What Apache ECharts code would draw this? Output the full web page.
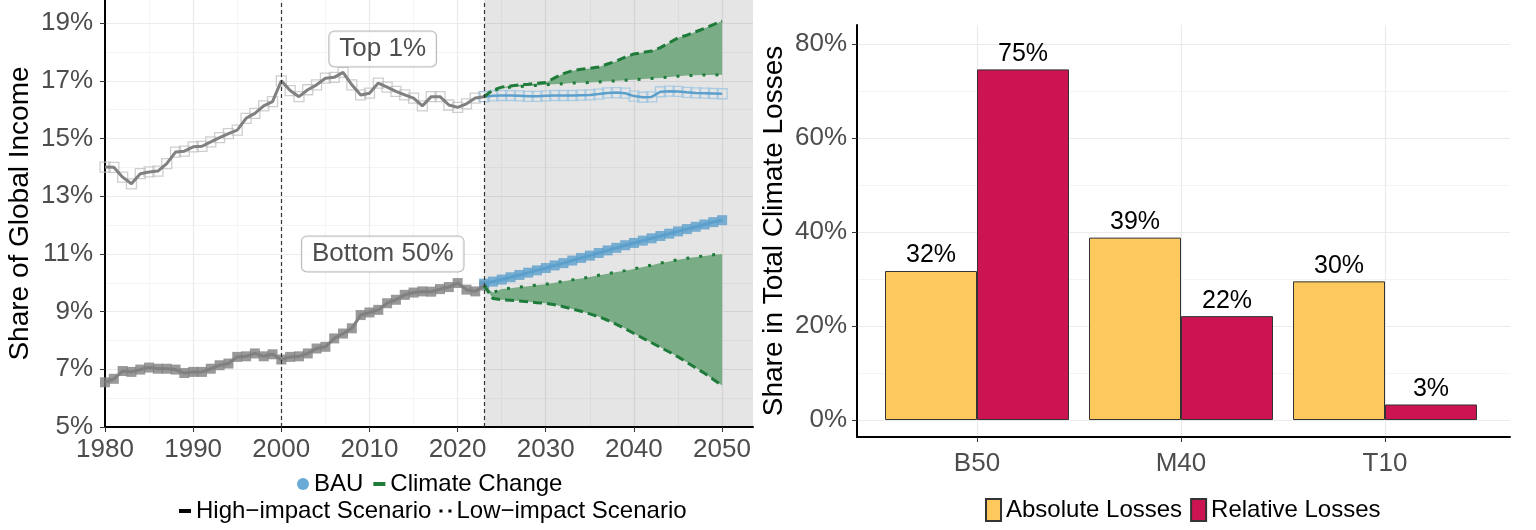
<!DOCTYPE html>
<html>
<head>
<meta charset="utf-8">
<title>Global income shares and climate losses</title>
<script src="https://cdn.jsdelivr.net/npm/echarts@6/dist/echarts.min.js"></script>
<style>
  html, body { margin: 0; padding: 0; background: #fff; }
  #main { width: 1536px; height: 530px; }
</style>
</head>
<body>
<div id="main"></div>
<script>
// ---- data ----
var histYears = [1980, 1981, 1982, 1983, 1984, 1985, 1986, 1987, 1988, 1989,
  1990, 1991, 1992, 1993, 1994, 1995, 1996, 1997, 1998, 1999,
  2000, 2001, 2002, 2003, 2004, 2005, 2006, 2007, 2008, 2009,
  2010, 2011, 2012, 2013, 2014, 2015, 2016, 2017, 2018, 2019,
  2020, 2021, 2022, 2023];
var top1Hist = [14.01, 14.00, 13.66, 13.43, 13.78, 13.84, 13.87, 14.13, 14.53, 14.56,
  14.71, 14.73, 14.88, 15.03, 15.17, 15.29, 15.70, 15.87, 16.13, 16.28,
  17.00, 16.66, 16.45, 16.69, 16.86, 17.09, 17.12, 17.29, 16.86, 16.51,
  16.57, 16.92, 16.78, 16.63, 16.51, 16.40, 16.13, 16.45, 16.45, 16.16,
  16.08, 16.20, 16.40, 16.45];
var b50Hist = [6.55, 6.67, 6.94, 6.91, 6.99, 7.06, 7.02, 7.02, 6.99, 6.87,
  6.91, 6.91, 7.02, 7.14, 7.20, 7.43, 7.45, 7.55, 7.45, 7.52,
  7.34, 7.43, 7.45, 7.55, 7.72, 7.78, 8.07, 8.24, 8.42, 8.88,
  8.97, 9.06, 9.29, 9.41, 9.58, 9.66, 9.70, 9.69, 9.78, 9.85,
  9.99, 9.76, 9.70, 9.90];

var futureYears = [2023, 2024, 2025, 2026, 2027, 2028, 2029, 2030, 2031, 2032,
  2033, 2034, 2035, 2036, 2037, 2038, 2039, 2040, 2041, 2042,
  2043, 2044, 2045, 2046, 2047, 2048, 2049, 2050];
var top1Bau = [16.45, 16.48, 16.49, 16.49, 16.48, 16.46, 16.46, 16.48, 16.49, 16.49,
  16.49, 16.50, 16.51, 16.54, 16.58, 16.59, 16.57, 16.47, 16.43, 16.44,
  16.62, 16.64, 16.63, 16.60, 16.58, 16.57, 16.56, 16.55];
var top1High = [16.45, 16.68, 16.78, 16.82, 16.86, 16.88, 16.91, 16.94, 17.10, 17.25,
  17.35, 17.40, 17.43, 17.48, 17.58, 17.68, 17.82, 17.93, 17.98, 18.03,
  18.15, 18.32, 18.49, 18.58, 18.70, 18.82, 18.95, 19.07];
var top1Low = [16.45, 16.66, 16.74, 16.78, 16.80, 16.82, 16.84, 16.86, 16.88, 16.90,
  16.92, 16.93, 16.94, 16.96, 16.98, 17.00, 17.02, 17.04, 17.06, 17.08,
  17.10, 17.13, 17.16, 17.18, 17.19, 17.20, 17.20, 17.21];
var b50Bau = [9.97, 10.04, 10.11, 10.19, 10.27, 10.35, 10.43, 10.51, 10.60, 10.68,
  10.77, 10.86, 10.94, 11.03, 11.12, 11.21, 11.30, 11.38, 11.46, 11.54,
  11.62, 11.70, 11.78, 11.86, 11.94, 12.02, 12.10, 12.17];
var b50Low = [9.90, 9.66, 9.78, 9.81, 9.85, 9.88, 9.92, 9.95, 10.00, 10.05,
  10.10, 10.15, 10.20, 10.26, 10.31, 10.37, 10.42, 10.48, 10.55, 10.61,
  10.68, 10.74, 10.80, 10.85, 10.89, 10.93, 10.97, 11.00];
var b50High = [9.90, 9.45, 9.41, 9.39, 9.37, 9.34, 9.31, 9.29, 9.24, 9.17,
  9.09, 9.01, 8.92, 8.82, 8.70, 8.56, 8.41, 8.24, 8.08, 7.92,
  7.76, 7.60, 7.43, 7.24, 7.05, 6.86, 6.65, 6.44];

var groupNames = ['Top 1%', 'Bottom 50%'];
var lossGroups = ['B50', 'M40', 'T10'];
var absoluteLosses = [31.7, 38.8, 29.5];
var relativeLosses = [74.6, 22.1, 3.3];

// ---- helpers ----
function pairs(xs, ys) {
  return xs.map(function (x, i) { return [x, ys[i]]; });
}

var font = 'Liberation Sans, Arial, Helvetica, sans-serif';
var tickGray = '#4d4d4d';
var gridCol = '#ebebeb';
var minorCol = '#f4f4f4';
var green = '#1e7b3a';
var greenFill = '#7aac86';
var blue = '#5b9fcc';
var gray = '#808080';

// ribbon between two scenario lines, drawn once as a polygon through the axes
function bandSeries(years, lo, hi) {
  return {
    type: 'custom', xAxisIndex: 0, yAxisIndex: 0, silent: true,
    data: years.map(function (y, i) { return [y, lo[i], hi[i]]; }),
    encode: { x: 0, y: [1, 2] },
    renderItem: function (params, api) {
      if (params.dataIndex !== 0) return null;
      var pts = [];
      for (var i = 0; i < years.length; i++) pts.push(api.coord([years[i], hi[i]]));
      for (var j = years.length - 1; j >= 0; j--) pts.push(api.coord([years[j], lo[j]]));
      return { type: 'polygon', shape: { points: pts }, style: { fill: greenFill } };
    }
  };
}

var chart = echarts.init(document.getElementById('main'), null, { renderer: 'canvas' });

var blackLine = { lineStyle: { color: '#000', width: 2 } };
var noTick = { show: false };
var tickStyle = { show: true, length: 5, lineStyle: { color: '#333', width: 1 } };

var option = {
  animation: false,
  textStyle: { fontFamily: font },
  grid: [
    { left: 105, top: 0, width: 648, height: 427 },      // 0 left data + axis lines
    { left: 105, top: 23.1, width: 648, height: 403.9 }, // 1 left horizontal grid + y labels
    { left: 105, top: 0, width: 617, height: 427 },      // 2 left vertical grid + x labels
    { left: 857, top: 25, width: 653, height: 412 },     // 3 right axis lines
    { left: 857, top: 44, width: 653, height: 376 },     // 4 right horizontal grid
    { left: 977, top: 25, width: 408, height: 412 },     // 5 right vertical grid + x labels
    { left: 875, top: 44, width: 612, height: 376 }      // 6 right bars + y labels
  ],
  xAxis: [
    { gridIndex: 0, type: 'value', min: 1980, max: 2053.5, axisLine: blackLine,
      axisTick: noTick, axisLabel: { show: false }, splitLine: { show: false } },
    { gridIndex: 1, type: 'value', min: 0, max: 1, show: false },
    { gridIndex: 2, type: 'value', min: 1980, max: 2050, interval: 10,
      axisLine: { show: false }, axisTick: tickStyle,
      axisLabel: { fontSize: 26, color: tickGray, margin: 10, fontFamily: font,
        formatter: function (v) { return String(v); } },
      splitLine: { show: true, lineStyle: { color: gridCol, width: 1.2 } },
      minorTick: { show: false, splitNumber: 2 },
      minorSplitLine: { show: true, lineStyle: { color: minorCol, width: 1 } } },
    { gridIndex: 3, type: 'value', min: 0, max: 1, axisLine: blackLine,
      axisTick: noTick, axisLabel: { show: false }, splitLine: { show: false } },
    { gridIndex: 4, type: 'value', min: 0, max: 1, show: false },
    { gridIndex: 5, type: 'category', boundaryGap: false, data: lossGroups,
      axisLine: { show: false }, axisTick: tickStyle,
      axisLabel: { fontSize: 26, color: tickGray, margin: 14, fontFamily: font },
      splitLine: { show: true, lineStyle: { color: gridCol, width: 1.2 } } },
    { gridIndex: 6, type: 'category', data: lossGroups, show: false }
  ],
  yAxis: [
    { gridIndex: 0, type: 'value', min: 5, max: 19.8, axisLine: blackLine,
      axisTick: noTick, axisLabel: { show: false }, splitLine: { show: false },
      name: 'Share of Global Income', nameLocation: 'middle', nameGap: 71,
      nameTextStyle: { fontSize: 28, color: '#000', fontFamily: font } },
    { gridIndex: 1, type: 'value', min: 5, max: 19, interval: 2,
      axisLine: { show: false }, axisTick: tickStyle,
      axisLabel: { formatter: '{value}%', fontSize: 26, color: tickGray, margin: 12, fontFamily: font },
      splitLine: { show: true, lineStyle: { color: gridCol, width: 1.2 } },
      minorTick: { show: false, splitNumber: 2 },
      minorSplitLine: { show: true, lineStyle: { color: minorCol, width: 1 } } },
    { gridIndex: 2, type: 'value', min: 0, max: 1, show: false },
    { gridIndex: 3, type: 'value', min: 0, max: 1, axisLine: blackLine,
      axisTick: noTick, axisLabel: { show: false }, splitLine: { show: false },
      name: 'Share in Total Climate Losses', nameLocation: 'middle', nameGap: 69,
      nameTextStyle: { fontSize: 28, color: '#000', fontFamily: font } },
    { gridIndex: 4, type: 'value', min: 0, max: 80, interval: 20,
      axisLine: { show: false }, axisTick: noTick, axisLabel: { show: false },
      splitLine: { show: true, lineStyle: { color: gridCol, width: 1.2 } },
      minorTick: { show: false, splitNumber: 2 },
      minorSplitLine: { show: true, lineStyle: { color: minorCol, width: 1 } } },
    { gridIndex: 5, type: 'value', min: 0, max: 1, show: false },
    { gridIndex: 6, type: 'value', min: 0, max: 80, interval: 20, offset: 18,
      axisLine: { show: false }, axisTick: tickStyle,
      axisLabel: { formatter: '{value}%', fontSize: 26, color: tickGray, margin: 10, fontFamily: font },
      splitLine: { show: false } }
  ],
  legend: [
    { left: 297, top: 472, padding: 0, itemWidth: 12, itemHeight: 12, itemGap: 10,
      selectedMode: false, textStyle: { fontSize: 24, color: '#000', fontFamily: font },
      data: [
        { name: 'BAU', icon: 'circle', itemStyle: { color: '#6aaad6', borderWidth: 0 } },
        { name: 'Climate Change', icon: 'path://M0,0h12v4h-12z', itemStyle: { color: green, borderWidth: 0 } }
      ] },
    { left: 179, top: 499, padding: 0, itemWidth: 12, itemHeight: 12, itemGap: 8,
      selectedMode: false, textStyle: { fontSize: 24, color: '#000', fontFamily: font },
      data: [
        { name: 'High\u2212impact Scenario', icon: 'path://M0,0h12v4h-12z', itemStyle: { color: '#000', borderWidth: 0 } },
        { name: 'Low\u2212impact Scenario', icon: 'path://M0,0h3v3h-3zM9,0h3v3h-3z', itemStyle: { color: '#000', borderWidth: 0 } }
      ] },
    { left: 985, top: 498, padding: 0, itemWidth: 15, itemHeight: 22, itemGap: 8,
      selectedMode: false, textStyle: { fontSize: 24, color: '#000', fontFamily: font },
      data: [
        { name: 'Absolute Losses', icon: 'rect' },
        { name: 'Relative Losses', icon: 'rect' }
      ] }
  ],
  series: [
    // projection period shading and the two reference years
    { type: 'line', xAxisIndex: 0, yAxisIndex: 0, data: pairs(histYears, top1Hist),
      symbol: 'none', lineStyle: { opacity: 0 }, silent: true,
      markArea: { silent: true, itemStyle: { color: 'rgba(0,0,0,0.1)' },
        data: [[{ xAxis: 2023 }, { xAxis: 2053.5 }]] },
      markLine: { silent: true, symbol: 'none', label: { show: false },
        lineStyle: { color: '#333', type: [4, 3], width: 1.2 },
        data: [{ xAxis: 2000 }, { xAxis: 2023 }] } },

    // history
    { type: 'scatter', xAxisIndex: 0, yAxisIndex: 0, data: pairs(histYears, top1Hist),
      symbol: 'rect', symbolSize: 10, silent: true,
      itemStyle: { color: 'rgba(0,0,0,0)', borderColor: '#c2c2c2', borderWidth: 1.3 } },
    { type: 'line', xAxisIndex: 0, yAxisIndex: 0, data: pairs(histYears, top1Hist),
      symbol: 'none', lineStyle: { color: gray, width: 3 } },
    { type: 'scatter', xAxisIndex: 0, yAxisIndex: 0, data: pairs(histYears, b50Hist),
      symbol: 'rect', symbolSize: 10, silent: true, itemStyle: { color: gray } },
    { type: 'line', xAxisIndex: 0, yAxisIndex: 0, data: pairs(histYears, b50Hist),
      symbol: 'none', lineStyle: { color: gray, width: 3 } },

    // climate change ribbons
    bandSeries(futureYears, top1Low, top1High),
    bandSeries(futureYears, b50High, b50Low),

    // BAU
    { type: 'scatter', xAxisIndex: 0, yAxisIndex: 0, data: pairs(futureYears, b50Bau),
      symbol: 'rect', symbolSize: 10, silent: true, itemStyle: { color: blue } },
    { name: 'BAU', type: 'line', xAxisIndex: 0, yAxisIndex: 0, data: pairs(futureYears, b50Bau),
      symbol: 'none', itemStyle: { color: blue }, lineStyle: { color: blue, width: 3 } },
    { type: 'scatter', xAxisIndex: 0, yAxisIndex: 0, data: pairs(futureYears, top1Bau),
      symbol: 'rect', symbolSize: 10, silent: true,
      itemStyle: { color: 'rgba(0,0,0,0)', borderColor: '#9fc5e1', borderWidth: 1.3 } },
    { name: 'BAU', type: 'line', xAxisIndex: 0, yAxisIndex: 0, data: pairs(futureYears, top1Bau),
      symbol: 'none', itemStyle: { color: blue }, lineStyle: { color: blue, width: 2.5 } },

    // climate change scenario lines
    { name: 'Climate Change', type: 'line', xAxisIndex: 0, yAxisIndex: 0, data: pairs(futureYears, top1High),
      symbol: 'none', itemStyle: { color: green }, lineStyle: { color: green, width: 3, type: [9, 5] } },
    { name: 'Climate Change', type: 'line', xAxisIndex: 0, yAxisIndex: 0, data: pairs(futureYears, top1Low),
      symbol: 'none', itemStyle: { color: green }, lineStyle: { color: green, width: 3, type: [3, 10] } },
    { name: 'Climate Change', type: 'line', xAxisIndex: 0, yAxisIndex: 0, data: pairs(futureYears, b50High),
      symbol: 'none', itemStyle: { color: green }, lineStyle: { color: green, width: 3, type: [9, 5] } },
    { name: 'Climate Change', type: 'line', xAxisIndex: 0, yAxisIndex: 0, data: pairs(futureYears, b50Low),
      symbol: 'none', itemStyle: { color: green }, lineStyle: { color: green, width: 3, type: [3, 10] } },

    // legend-only entries for line types
    { name: 'High\u2212impact Scenario', type: 'line', xAxisIndex: 0, yAxisIndex: 0, data: [],
      itemStyle: { color: '#000' } },
    { name: 'Low\u2212impact Scenario', type: 'line', xAxisIndex: 0, yAxisIndex: 0, data: [],
      itemStyle: { color: '#000' } },

    // group labels
    { type: 'scatter', xAxisIndex: 0, yAxisIndex: 0, silent: true,
      data: [[2011.5, 18.1], [2011.5, 11.0]], symbol: 'rect', symbolSize: 1,
      itemStyle: { color: 'rgba(0,0,0,0)' },
      label: { show: true, position: 'inside', fontSize: 26, color: '#222', fontFamily: font,
        textBorderWidth: 0, backgroundColor: '#fff', borderColor: '#a6a6a6', borderWidth: 1,
        borderRadius: 5, padding: [5, 10, 4, 10],
        formatter: function (p) { return groupNames[p.dataIndex]; } } },

    // right panel bars
    { name: 'Absolute Losses', type: 'bar', xAxisIndex: 6, yAxisIndex: 6, data: absoluteLosses,
      barWidth: 92, barGap: '0%',
      itemStyle: { color: '#fec95c', borderColor: '#333', borderWidth: 1 },
      label: { show: true, position: 'top', distance: 3, fontSize: 25, color: '#000', fontFamily: font,
        formatter: function (p) { return Math.round(p.value) + '%'; } } },
    { name: 'Relative Losses', type: 'bar', xAxisIndex: 6, yAxisIndex: 6, data: relativeLosses,
      barWidth: 92, barGap: '0%',
      itemStyle: { color: '#cc1452', borderColor: '#333', borderWidth: 1 },
      label: { show: true, position: 'top', distance: 3, fontSize: 25, color: '#000', fontFamily: font,
        formatter: function (p) { return Math.round(p.value) + '%'; } } }
  ]
};

chart.setOption(option);
</script>
</body>
</html>
